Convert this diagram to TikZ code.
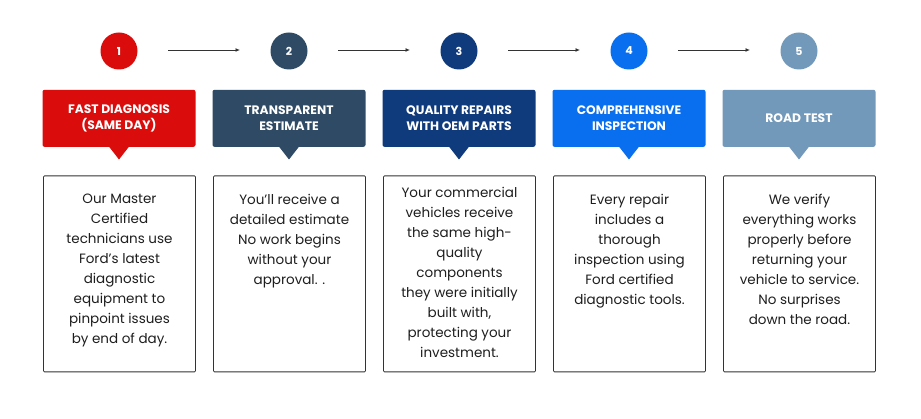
\documentclass[tikz,border=0pt]{standalone}
\usepackage{fontspec}
\setmainfont{Poppins}
\usetikzlibrary{arrows.meta}
\definecolor{cred}{HTML}{DA0C0C}
\definecolor{cslate}{HTML}{2F4A64}
\definecolor{cnavy}{HTML}{0F3A7C}
\definecolor{cblue}{HTML}{0A6FEE}
\definecolor{cgrey}{HTML}{7299BA}
\definecolor{ctext}{HTML}{1E1E1E}
\definecolor{cline}{HTML}{333333}
\newcommand{\apo}{\char"0027\relax}
\tikzset{
  numdot/.style={circle, minimum size=37pt, inner sep=0pt, text=white, font=\bfseries\fontsize{11}{13}\selectfont},
  headbox/.style={rectangle, rounded corners=2pt, minimum width=153pt, minimum height=57pt, inner sep=0pt, text=white, align=center, font=\bfseries\fontsize{12.3}{16}\selectfont},
  textbox/.style={rectangle, draw=cline, line width=0.8pt, rounded corners=1pt, minimum width=152pt, minimum height=196pt, inner sep=0pt, anchor=north},
  bodytext/.style={anchor=north, inner sep=0pt, align=center, text=ctext, font=\fontsize{13.5}{20}\selectfont},
  flow/.style={draw=cline, line width=0.9pt, -{Latex[length=4.5pt,width=4pt]}}
}
\begin{document}
\begin{tikzpicture}[x=1pt,y=-1pt]
\useasboundingbox (0,0) rectangle (921,419);
\fill[white] (0,0) rectangle (921,419);
% circles
\node[numdot, fill=cred]   (c1) at (119,51) {1};
\node[numdot, fill=cslate] (c2) at (289,51) {2};
\node[numdot, fill=cnavy]  (c3) at (459,51) {3};
\node[numdot, fill=cblue]  (c4) at (629,51) {4};
\node[numdot, fill=cgrey]  (c5) at (799,51) {5};
% arrows
\coordinate (a1s) at (168,50); \coordinate (a1e) at (240,50);
\coordinate (a2s) at (338,50); \coordinate (a2e) at (410,50);
\coordinate (a3s) at (508,50); \coordinate (a3e) at (580,50);
\coordinate (a4s) at (678,50); \coordinate (a4e) at (750,50);
\draw[flow] (a1s) -- (a1e);
\draw[flow] (a2s) -- (a2e);
\draw[flow] (a3s) -- (a3e);
\draw[flow] (a4s) -- (a4e);
% header pointers
\foreach \x/\c in {119/cred,289/cslate,459/cnavy,629/cblue,799/cgrey}{
  \fill[\c] (\x-10.5,146) -- (\x,159.5) -- (\x+10.5,146) -- cycle;
}
% headers
\node[headbox, fill=cred]   (h1) at (119,118.3) {FAST DIAGNOSIS\\(SAME DAY)};
\node[headbox, fill=cslate] (h2) at (289,118.3) {TRANSPARENT\\ESTIMATE};
\node[headbox, fill=cnavy]  (h3) at (459,118.3) {QUALITY REPAIRS\\WITH OEM PARTS};
\node[headbox, fill=cblue]  (h4) at (629,118.3) {COMPREHENSIVE\\INSPECTION};
\node[headbox, fill=cgrey]  (h5) at (799,118.3) {ROAD TEST};
% text boxes
\node[textbox] (b1) at (119.5,175.5) {};
\node[textbox] (b2) at (289.5,175.5) {};
\node[textbox] (b3) at (459.5,175.5) {};
\node[textbox] (b4) at (629.5,175.5) {};
\node[textbox] (b5) at (799.5,175.5) {};
\node[bodytext] (t1) at (119.5,194) {Our Master\\Certified\\technicians use\\Ford\apo s latest\\diagnostic\\equipment to\\pinpoint issues\\by end of day.};
\node[bodytext] (t2) at (289.5,194) {You\apo ll receive a\\detailed estimate\\No work begins\\without your\\approval. .};
\node[bodytext] (t3) at (459.5,187.5) {Your commercial\\vehicles receive\\the same high-\\quality\\components\\they were initially\\built with,\\protecting your\\investment.};
\node[bodytext] (t4) at (629.5,194) {Every repair\\includes a\\thorough\\inspection using\\Ford certified\\diagnostic tools.};
\node[bodytext] (t5) at (799.5,194) {We verify\\everything works\\properly before\\returning your\\vehicle to service.\\No surprises\\down the road.};
\end{tikzpicture}
\end{document}
